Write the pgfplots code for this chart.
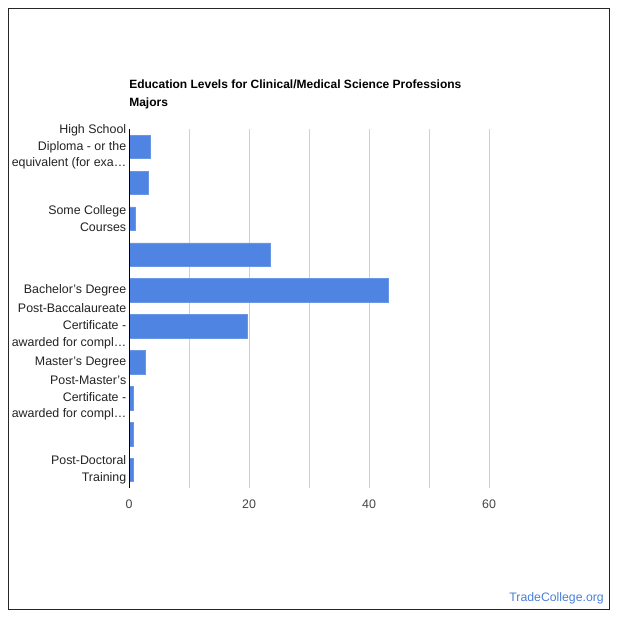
\documentclass[border=0pt]{standalone}
\usepackage{pgfplots}
\pgfplotsset{compat=1.18}
\usepackage{fontspec}
\setmainfont{Liberation Sans}
\definecolor{barblue}{RGB}{80,132,226}
\definecolor{gridgray}{RGB}{208,208,208}
\definecolor{labgray}{RGB}{34,34,34}
\definecolor{tickgray}{RGB}{68,68,68}
\definecolor{wmblue}{RGB}{74,128,214}
\begin{document}
\begin{tikzpicture}[x=0.75pt,y=-0.75pt]
\path[use as bounding box] (0,0) rectangle (620,620);
\draw[line width=0.75pt, black!85] (8.5,8.5) rectangle (609,609);
\node[anchor=base west, font=\fontsize{9pt}{11pt}\selectfont\bfseries, inner sep=0] at (129,89) {Education Levels for Clinical/Medical Science Professions};
\node[anchor=base west, font=\fontsize{9pt}{11pt}\selectfont\bfseries, inner sep=0] at (129,107) {Majors};
\node[anchor=base east, text=wmblue, font=\fontsize{9.2pt}{11pt}\selectfont, inner sep=0] at (604,601) {TradeCollege.org};
\begin{axis}[
  at={(96.75pt,-366pt)}, anchor=south west,
  scale only axis, width=270pt, height=269.25pt,
  xbar, bar width=0.655,
  xmin=0, xmax=60, ymin=0.5, ymax=10.5, y dir=reverse,
  xtick={0,20,40,60}, minor xtick={10,30,50},
  ytick={1,2,3,4,5,6,7,8,9,10},
  yticklabels={{High School\\Diploma - or the\\equivalent (for exa…},{},{Some College\\Courses},{},{Bachelor’s Degree},{Post-Baccalaureate\\Certificate -\\awarded for compl…},{Master’s Degree},{Post-Master’s\\Certificate -\\awarded for compl…},{},{Post-Doctoral\\Training}},
  xmajorgrids, xminorgrids,
  major grid style={gridgray, line width=0.75pt},
  minor grid style={gridgray, line width=0.75pt},
  major tick length=0, minor tick length=0,
  axis line style={draw=none},
  yticklabel style={align=right, font=\fontsize{9.3pt}{12.5pt}\selectfont, text=labgray, inner xsep=1.9pt},
  xticklabel style={font=\fontsize{9.3pt}{11pt}\selectfont, text=tickgray, yshift=-5pt},
  /pgf/number format/assume math mode=true,
  clip=false,
]
\addplot[fill=barblue, draw=barblue!85!white, line width=0.5pt] coordinates {(3.5,1) (3.2,2) (1.0,3) (23.6,4) (43.3,5) (19.7,6) (2.8,7) (0.8,8) (0.8,9) (0.8,10)};
\draw[black, line width=0.75pt] (axis cs:0,0.5) -- (axis cs:0,10.5);
\end{axis}
\end{tikzpicture}
\end{document}
